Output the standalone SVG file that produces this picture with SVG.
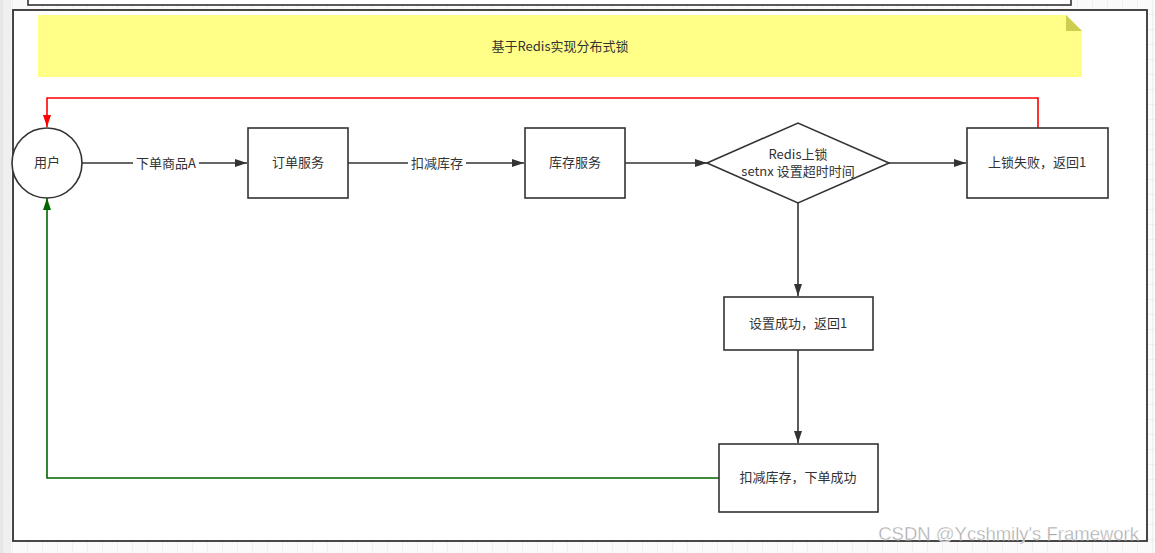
<svg xmlns="http://www.w3.org/2000/svg" width="1155" height="553" viewBox="0 0 1155 553">
<style>
text{font-family:"Noto Sans CJK SC","Liberation Sans",sans-serif;font-size:13px;fill:#333;}
.box{fill:#fff;stroke:#333;stroke-width:1.6;}
.edge{fill:none;stroke:#333;stroke-width:1.6;}
.lbl{fill:#fff;}
</style>
<defs>
<pattern id="grid" width="15" height="15" patternUnits="userSpaceOnUse" x="13" y="0">
<rect width="15" height="15" fill="#fafafa"/>
<path d="M15 0V15M0 15H15" fill="none" stroke="#e4e4e4" stroke-width="1"/>
</pattern>
<marker id="ah" markerWidth="12" markerHeight="8" refX="12" refY="4" orient="auto" markerUnits="userSpaceOnUse">
<path d="M0,0L12,4L0,8Z" fill="#333"/>
</marker>
<marker id="ahr" markerWidth="12" markerHeight="8" refX="12" refY="4" orient="auto" markerUnits="userSpaceOnUse">
<path d="M0,0L12,4L0,8Z" fill="#f00"/>
</marker>
<marker id="ahg" markerWidth="12" markerHeight="8" refX="12" refY="4" orient="auto" markerUnits="userSpaceOnUse">
<path d="M0,0L12,4L0,8Z" fill="#006600"/>
</marker>
</defs>
<rect width="1155" height="553" fill="url(#grid)"/>
<rect x="0" y="0" width="11" height="553" fill="#efefef"/>
<rect x="0" y="0" width="3" height="553" fill="#e6e6e6"/>
<rect x="28" y="-10" width="1043" height="15" fill="#fff" stroke="#333" stroke-width="1.6"/>
<rect x="13" y="10" width="1134" height="531" fill="#fff" stroke="#333" stroke-width="1.8"/>

<g id="note">
<path d="M38 15H1066L1082 31V77H38Z" fill="#ffff88"/>
<path d="M1066 15L1082 31H1066Z" fill="#cdcd50"/>
<text x="560" y="51" text-anchor="middle">基于Redis实现分布式锁</text>
</g>

<g id="connectors">
<line class="edge" x1="82" y1="163" x2="247" y2="163" marker-end="url(#ah)"/>
<rect class="lbl" x="133" y="155" width="66" height="16"/>
<text x="166" y="168" text-anchor="middle">下单商品A</text>
<line class="edge" x1="348" y1="163" x2="524" y2="163" marker-end="url(#ah)"/>
<rect class="lbl" x="408" y="155" width="58" height="16"/>
<text x="437" y="168" text-anchor="middle">扣减库存</text>
<line class="edge" x1="625" y1="163" x2="707" y2="163" marker-end="url(#ah)"/>
<line class="edge" x1="889" y1="163" x2="966" y2="163" marker-end="url(#ah)"/>
<line class="edge" x1="798" y1="203" x2="798" y2="296" marker-end="url(#ah)"/>
<line class="edge" x1="798" y1="350" x2="798" y2="443" marker-end="url(#ah)"/>
<path d="M1038 128V98H47V127" fill="none" stroke="#f00" stroke-width="1.6" marker-end="url(#ahr)"/>
<path d="M719 478H47V198" fill="none" stroke="#006600" stroke-width="1.6" marker-end="url(#ahg)"/>
</g>

<g id="user">
<circle class="box" cx="47" cy="163" r="35"/>
<text x="47" y="167" text-anchor="middle">用户</text>
</g>
<g id="order">
<rect class="box" x="248" y="128" width="100" height="70"/>
<text x="298" y="167" text-anchor="middle">订单服务</text>
</g>
<g id="stock">
<rect class="box" x="525" y="128" width="100" height="70"/>
<text x="575" y="167" text-anchor="middle">库存服务</text>
</g>
<g id="lock">
<path class="box" d="M707 163L798 123L889 163L798 203Z"/>
<text x="798" y="159" text-anchor="middle">Redis上锁</text>
<text x="798" y="176" text-anchor="middle">setnx 设置超时时间</text>
</g>
<g id="fail">
<rect class="box" x="967" y="128" width="141" height="70"/>
<text x="1037" y="167" text-anchor="middle">上锁失败，返回1</text>
</g>
<g id="success">
<rect class="box" x="724" y="297" width="149" height="53"/>
<text x="798" y="328" text-anchor="middle">设置成功，返回1</text>
</g>
<g id="done">
<rect class="box" x="719" y="444" width="159" height="68"/>
<text x="798" y="482" text-anchor="middle">扣减库存，下单成功</text>
</g>
<text x="1139" y="540" text-anchor="end" style="font-family:'Liberation Sans',sans-serif;font-size:18.5px;fill:#a8a8a8;stroke:#fff;stroke-width:0.4;">CSDN @Ycshmily's Framework</text>
</svg>
